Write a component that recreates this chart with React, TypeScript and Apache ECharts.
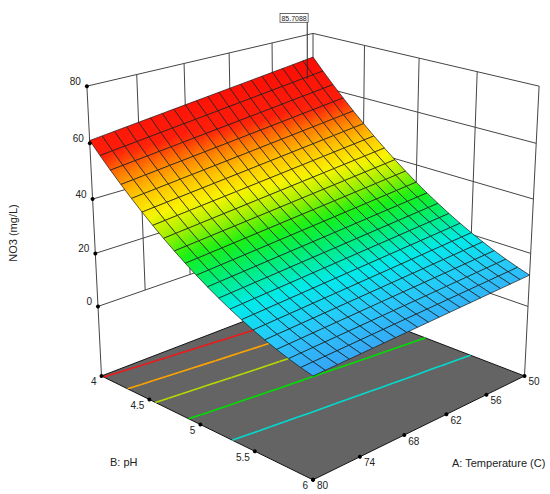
import React, { useEffect, useRef } from "react";
import * as echarts from "echarts";

// ---------- data ----------
const temperatureRange = [50, 80]; // A: Temperature (C)
const phRange = [4, 6]; // B: pH
const no3Range = [-27, 80]; // box bottom (floor) .. box top
const temperatureTicks = [50, 56, 62, 68, 74, 80];
const phTicks = [4, 4.5, 5, 5.5, 6];
const no3Ticks = [0, 20, 40, 60, 80];
// quadratic response-surface model in coded factors a=(A-65)/15, b=(B-5)/1
// NO3 = b0 + bA*a + bB*b + bAB*a*b + bAA*a^2 + bBB*b^2
const modelCoefficients = [30.2, -3.18, -27.73, 1.73, 0, 7.96];
const contourLevels = [20, 30, 40, 50, 60];
const flagPoint = [52.5, 4.11, 85.7088];
const flagLabels = ["85.7088"];

// ---------- styles / view ----------
const MESH = 20;
const ELEV = (20.5 * Math.PI) / 180;
const DIST = 10.5;
const FOCAL = 1622.7;
const CX = 313;
const CY = 235.9;
const FONT = 'Arial, "Liberation Sans", sans-serif';
const TEXT = "#222";
const colorStops: number[][] = [
  [9, 55, 165, 245],
  [14, 40, 200, 250],
  [20, 0, 235, 235],
  [26, 0, 238, 110],
  [31, 25, 240, 20],
  [36, 160, 240, 0],
  [41, 250, 245, 0],
  [47, 255, 190, 0],
  [52, 255, 120, 0],
  [57, 255, 30, 10],
  [80, 250, 0, 0],
];
const contourColors = ["#00dcd0", "#00e000", "#b4dc00", "#ffa500", "#f01818"];

function colorAt(z: number): string {
  if (z <= colorStops[0][0]) {
    const s = colorStops[0];
    return `rgb(${s[1]},${s[2]},${s[3]})`;
  }
  for (let i = 1; i < colorStops.length; i++) {
    const p = colorStops[i - 1];
    const q = colorStops[i];
    if (z <= q[0]) {
      const t = (z - p[0]) / (q[0] - p[0]);
      const c = [1, 2, 3].map((k) => Math.round(p[k] + (q[k] - p[k]) * t));
      return `rgb(${c[0]},${c[1]},${c[2]})`;
    }
  }
  const s = colorStops[colorStops.length - 1];
  return `rgb(${s[1]},${s[2]},${s[3]})`;
}

function model(A: number, B: number): number {
  const a = (A - 65) / 15;
  const b = (B - 5) / 1;
  const [b0, bA, bB, bAB, bAA, bBB] = modelCoefficients;
  return b0 + bA * a + bB * b + bAB * a * b + bAA * a * a + bBB * b * b;
}

function camera(A: number, B: number, z: number) {
  const a = ((A - temperatureRange[0]) / (temperatureRange[1] - temperatureRange[0])) * 2 - 1;
  const b = ((B - phRange[0]) / (phRange[1] - phRange[0])) * 2 - 1;
  const c = ((z - no3Range[0]) / (no3Range[1] - no3Range[0])) * 2 - 1;
  const s = (b - a) / Math.SQRT2;
  const d = (a + b) / Math.SQRT2;
  const ycam = c * Math.cos(ELEV) - d * Math.sin(ELEV);
  const zcam = d * Math.cos(ELEV) + c * Math.sin(ELEV);
  const k = FOCAL / (DIST - zcam);
  return { x: CX + k * s, y: CY - k * ycam, depth: zcam };
}

function P(api: any, A: number, B: number, z: number): number[] {
  const p = camera(A, B, z);
  return api.coord([p.x, p.y]);
}

// ---------- derived tables ----------
const gridA: number[] = [];
const gridB: number[] = [];
for (let i = 0; i <= MESH; i++) {
  gridA.push(temperatureRange[0] + ((temperatureRange[1] - temperatureRange[0]) * i) / MESH);
  gridB.push(phRange[0] + ((phRange[1] - phRange[0]) * i) / MESH);
}

const cells: number[][] = [];
for (let i = 0; i < MESH; i++) {
  for (let j = 0; j < MESH; j++) {
    const Am = (gridA[i] + gridA[i + 1]) / 2;
    const Bm = (gridB[j] + gridB[j + 1]) / 2;
    const depth = camera(Am, Bm, model(Am, Bm)).depth;
    cells.push([gridA[i], gridB[j], gridA[i + 1], gridB[j + 1], depth]);
  }
}
cells.sort((p, q) => p[4] - q[4]);

const contourSegments: number[][] = [];
for (let i = 0; i < MESH; i++) {
  for (let j = 0; j < MESH; j++) {
    const corners = [
      [gridA[i], gridB[j]],
      [gridA[i + 1], gridB[j]],
      [gridA[i + 1], gridB[j + 1]],
      [gridA[i], gridB[j + 1]],
    ].map(([A, B]) => [A, B, model(A, B)]);
    contourLevels.forEach((L, li) => {
      const pts: number[][] = [];
      for (let e = 0; e < 4; e++) {
        const u = corners[e];
        const v = corners[(e + 1) % 4];
        if ((u[2] - L) * (v[2] - L) < 0) {
          const t = (L - u[2]) / (v[2] - u[2]);
          pts.push([u[0] + (v[0] - u[0]) * t, u[1] + (v[1] - u[1]) * t]);
        }
      }
      for (let k = 0; k + 1 < pts.length; k += 2) {
        contourSegments.push([pts[k][0], pts[k][1], pts[k + 1][0], pts[k + 1][1], li]);
      }
    });
  }
}

const [A0, A1] = temperatureRange;
const [B0, B1] = phRange;
const zTop = no3Range[1];
const zFloor = no3Range[0];
const wallSegments: number[][] = [];
no3Ticks.forEach((z) => {
  wallSegments.push([A1, B0, z, A0, B0, z]);
  wallSegments.push([A0, B0, z, A0, B1, z]);
});
temperatureTicks
  .filter((A) => A !== A0 && A !== A1)
  .forEach((A) => wallSegments.push([A, B0, no3Ticks[0], A, B0, zTop]));
phTicks
  .filter((B) => B !== B0 && B !== B1)
  .forEach((B) => wallSegments.push([A0, B, no3Ticks[0], A0, B, zTop]));
wallSegments.push([A1, B0, zFloor, A1, B0, zTop]);
wallSegments.push([A0, B0, zFloor, A0, B0, zTop]);
wallSegments.push([A0, B1, zFloor, A0, B1, zTop]);

const base = {
  type: "custom",
  coordinateSystem: "cartesian2d",
  silent: true,
  clip: false,
};

function tickText(text: string, x: number, y: number, align: string) {
  return {
    type: "text",
    style: {
      text,
      x,
      y,
      align,
      verticalAlign: "middle",
      fontSize: 10,
      fontFamily: FONT,
      fill: TEXT,
    },
  };
}

const option: any = {
  animation: false,
  grid: { left: 0, right: 0, top: 0, bottom: 0 },
  xAxis: { type: "value", min: 0, max: 550, show: false },
  yAxis: { type: "value", min: 0, max: 494, inverse: true, show: false },
  series: [
    {
      ...base,
      name: "walls",
      z: 1,
      data: wallSegments,
      renderItem: (_p: any, api: any) => {
        const p1 = P(api, api.value(0), api.value(1), api.value(2));
        const p2 = P(api, api.value(3), api.value(4), api.value(5));
        return {
          type: "line",
          shape: { x1: p1[0], y1: p1[1], x2: p2[0], y2: p2[1] },
          style: { stroke: "#454545", lineWidth: 1 },
        };
      },
    },
    {
      ...base,
      name: "floor",
      z: 2,
      data: [[A0, B0, A1, B1]],
      renderItem: (_p: any, api: any) => {
        const a0 = api.value(0), b0 = api.value(1), a1 = api.value(2), b1 = api.value(3);
        const pts = [
          P(api, a1, b0, zFloor),
          P(api, a1, b1, zFloor),
          P(api, a0, b1, zFloor),
          P(api, a0, b0, zFloor),
        ];
        return {
          type: "polygon",
          shape: { points: pts },
          style: { fill: "#646464", stroke: "#111", lineWidth: 1 },
        };
      },
    },
    {
      ...base,
      name: "floorContours",
      z: 3,
      data: contourSegments,
      renderItem: (_p: any, api: any) => {
        const p1 = P(api, api.value(0), api.value(1), zFloor);
        const p2 = P(api, api.value(2), api.value(3), zFloor);
        return {
          type: "line",
          shape: { x1: p1[0], y1: p1[1], x2: p2[0], y2: p2[1] },
          style: { stroke: contourColors[api.value(4)], lineWidth: 1.6 },
        };
      },
    },
    {
      ...base,
      name: "surface",
      z: 4,
      data: cells,
      renderItem: (_p: any, api: any) => {
        const a0 = api.value(0), b0 = api.value(1), a1 = api.value(2), b1 = api.value(3);
        const corners = [
          [a0, b0],
          [a1, b0],
          [a1, b1],
          [a0, b1],
        ];
        const pts = corners.map(([A, B]) => P(api, A, B, model(A, B)));
        const am = (a0 + a1) / 2;
        const bm = (b0 + b1) / 2;
        const zs = [model(am, b0), model(am, bm), model(am, b1)];
        const g0 = P(api, am, b0, zs[0]);
        const g1 = P(api, am, b1, zs[2]);
        const fill = {
          type: "linear",
          x: g0[0],
          y: g0[1],
          x2: g1[0],
          y2: g1[1],
          global: true,
          colorStops: [
            { offset: 0, color: colorAt(zs[0]) },
            { offset: 0.5, color: colorAt(zs[1]) },
            { offset: 1, color: colorAt(zs[2]) },
          ],
        };
        return {
          type: "polygon",
          shape: { points: pts },
          style: { fill, stroke: "#1a1a1a", lineWidth: 0.7 },
        };
      },
    },
    {
      ...base,
      name: "flag",
      z: 5,
      data: [flagPoint],
      renderItem: (p: any, api: any) => {
        const A = api.value(0), B = api.value(1), z = api.value(2);
        const top = P(api, A, B, z);
        const bottom = P(api, A, B, model(A, B));
        return {
          type: "group",
          children: [
            {
              type: "line",
              shape: { x1: top[0], y1: top[1] - 3, x2: bottom[0], y2: bottom[1] },
              style: { stroke: "#2a2a2a", lineWidth: 1 },
            },
            {
              type: "text",
              style: {
                text: flagLabels[p.dataIndex],
                x: top[0] + 0.5,
                y: top[1] - 3,
                align: "right",
                verticalAlign: "bottom",
                fontSize: 7,
                fontFamily: FONT,
                fill: "#222",
                backgroundColor: "#fff",
                borderColor: "#555",
                borderWidth: 0.8,
                padding: [1, 1, 0, 1],
              },
            },
          ],
        };
      },
    },
    {
      ...base,
      name: "no3Ticks",
      z: 6,
      data: no3Ticks.map((z) => [A1, B0, z]),
      renderItem: (_p: any, api: any) => {
        const pt = P(api, api.value(0), api.value(1), api.value(2));
        return {
          type: "group",
          children: [
            { type: "circle", shape: { cx: pt[0], cy: pt[1], r: 2 }, style: { fill: "#000" } },
            tickText(String(api.value(2)), pt[0] - 6, pt[1] - 4.5, "right"),
          ],
        };
      },
    },
    {
      ...base,
      name: "phTicks",
      z: 6,
      data: phTicks.map((B) => [A1, B, zFloor]),
      renderItem: (_p: any, api: any) => {
        const pt = P(api, api.value(0), api.value(1), api.value(2));
        return {
          type: "group",
          children: [
            { type: "circle", shape: { cx: pt[0], cy: pt[1], r: 2 }, style: { fill: "#000" } },
            tickText(String(api.value(1)), pt[0] - 5, pt[1] + 6, "right"),
          ],
        };
      },
    },
    {
      ...base,
      name: "temperatureTicks",
      z: 6,
      data: temperatureTicks.map((A) => [A, B1, zFloor]),
      renderItem: (_p: any, api: any) => {
        const pt = P(api, api.value(0), api.value(1), api.value(2));
        return {
          type: "group",
          children: [
            { type: "circle", shape: { cx: pt[0], cy: pt[1], r: 2 }, style: { fill: "#000" } },
            tickText(String(api.value(0)), pt[0] + 4, pt[1] + 6, "left"),
          ],
        };
      },
    },
  ],
  graphic: [
    {
      type: "text",
      x: 13,
      y: 233,
      rotation: Math.PI / 2,
      style: {
        text: "NO3 (mg/L)",
        align: "center",
        verticalAlign: "middle",
        fontSize: 11,
        fontFamily: FONT,
        fill: TEXT,
      },
    },
    {
      type: "text",
      x: 110,
      y: 462,
      style: {
        text: "B: pH",
        align: "left",
        verticalAlign: "middle",
        fontSize: 11,
        fontFamily: FONT,
        fill: TEXT,
      },
    },
    {
      type: "text",
      x: 452,
      y: 463,
      style: {
        text: "A: Temperature (C)",
        align: "left",
        verticalAlign: "middle",
        fontSize: 11,
        fontFamily: FONT,
        fill: TEXT,
      },
    },
  ],
};

export default function App() {
  const ref = useRef<HTMLDivElement>(null);
  useEffect(() => {
    if (!ref.current) return;
    const chart = echarts.init(ref.current, null, { renderer: "svg" });
    chart.setOption(option);
    return () => chart.dispose();
  }, []);
  return (
    <div
      ref={ref}
      style={{ position: "fixed", left: 0, top: 0, width: 550, height: 494, background: "#fff" }}
    />
  );
}
